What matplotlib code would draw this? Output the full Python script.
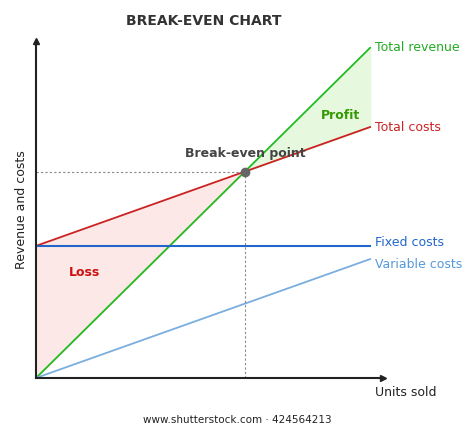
import matplotlib
matplotlib.use("Agg")
import matplotlib.pyplot as plt
import numpy as np

units = [0, 10]
revenue = [0, 10]
fixed = [4, 4]
variable = [0, 3.6]
total = [4, 7.6]
be_x = 4 / (1 - 0.36)
be_y = be_x

fig = plt.figure(figsize=(4.74, 4.29), dpi=100)
ax = fig.add_axes([0.076, 0.119, 0.733, 0.785])
ax.set_xlim(0, 10.4)
ax.set_ylim(0, 10.2)
for s in ["top", "right"]:
    ax.spines[s].set_visible(False)
for s in ["left", "bottom"]:
    ax.spines[s].set_linewidth(1.5)
    ax.spines[s].set_color("#222")
ax.set_xticks([]); ax.set_yticks([])
ax.plot(1, 0, ">", color="#222", transform=ax.get_yaxis_transform(), clip_on=False, ms=5)
ax.plot(0, 1, "^", color="#222", transform=ax.get_xaxis_transform(), clip_on=False, ms=5)

x = np.linspace(0, be_x, 50)
ax.fill_between(x, np.interp(x, units, revenue), np.interp(x, units, total), color="#fde8e8")
x2 = np.linspace(be_x, 10, 50)
ax.fill_between(x2, np.interp(x2, units, total), np.interp(x2, units, revenue), color="#e6f9df")

ax.plot(units, revenue, color="#22bb22", lw=1.3)
ax.plot(units, total, color="#cc2222", lw=1.3)
ax.plot(units, fixed, color="#2266cc", lw=1.5)
ax.plot(units, variable, color="#7aaedf", lw=1.3)
ax.plot([0, be_x], [be_y, be_y], ls=(0, (2, 2)), color="#888", lw=0.8)
ax.plot([be_x, be_x], [0, be_y], ls=(0, (2, 2)), color="#888", lw=0.8)
ax.plot(be_x, be_y, "o", color="#666", ms=6, zorder=5)

ax.text(be_x, be_y + 0.35, "Break-even point", ha="center", va="bottom", fontsize=9, fontweight="bold", color="#444")
ax.text(9.1, 7.85, "Profit", ha="center", fontsize=9, fontweight="bold", color="#339900")
ax.text(1.45, 3.1, "Loss", ha="center", fontsize=9, fontweight="bold", color="#cc1111")

kw = dict(fontsize=9, va="center", clip_on=False)
ax.text(10.15, 10.0, "Total revenue", color="#22aa22", **kw)
ax.text(10.15, 7.6, "Total costs", color="#cc2222", **kw)
ax.text(10.15, 4.1, "Fixed costs", color="#2266cc", **kw)
ax.text(10.15, 3.45, "Variable costs", color="#5599dd", **kw)
ax.text(10.15, -0.45, "Units sold", color="#222", **kw)
ax.set_ylabel("Revenue and costs", fontsize=9, color="#222", labelpad=6)
fig.text(0.43, 0.95, "BREAK-EVEN CHART", ha="center", va="center", fontsize=10, fontweight="bold", color="#333")
fig.text(0.5, 0.02, "www.shutterstock.com · 424564213", ha="center", va="center", fontsize=7.5, color="#222")
fig.savefig("out.png", dpi=100)
